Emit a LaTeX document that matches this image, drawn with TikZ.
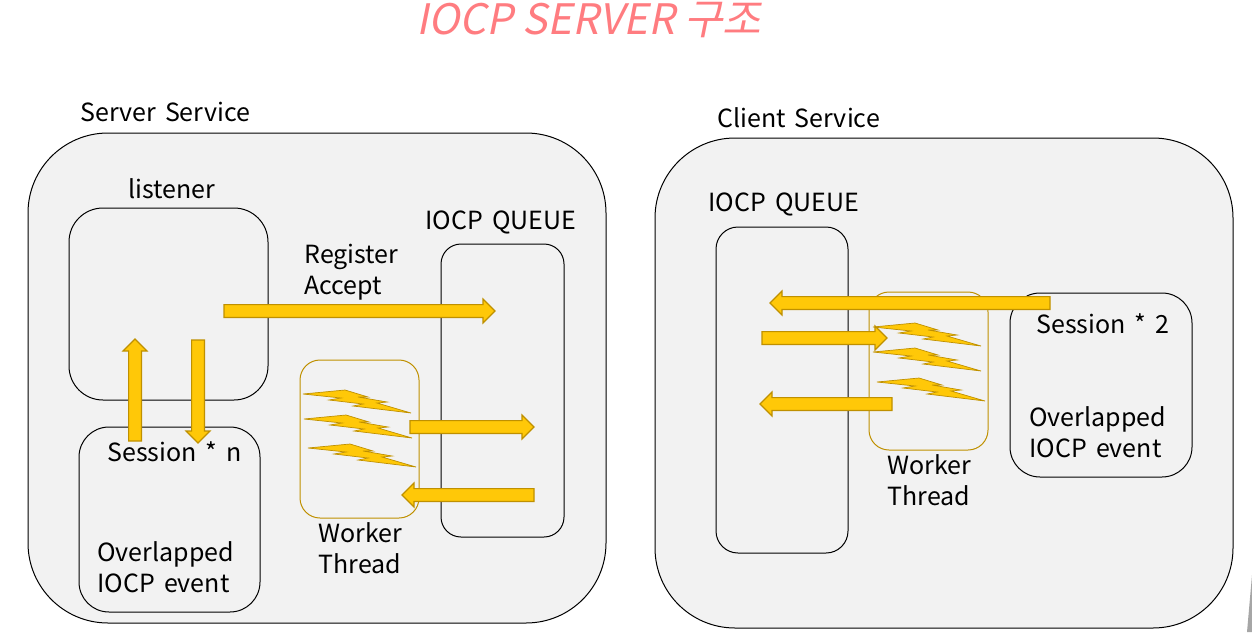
\documentclass[tikz,border=0pt]{standalone}
\usepackage{fontspec}
\setmainfont[WordSpace=1.6]{Noto Sans CJK KR}
\newfontfamily\titlefont[AutoFakeSlant=0.2]{Noto Sans CJK KR}
\usetikzlibrary{calc}

\definecolor{panelgray}{HTML}{F2F2F2}
\definecolor{boltgold}{HTML}{FFC808}
\definecolor{edgegold}{HTML}{BF9000}
\definecolor{titlepink}{HTML}{FF7C80}

\tikzset{
    panel/.style={draw=black, fill=panelgray, rounded corners=#1, line width=0.5pt},
    workerbox/.style={draw=edgegold, fill=panelgray, rounded corners=10pt, line width=0.5pt},
    caption/.style={inner sep=0pt, anchor=west, align=left, font=\fontsize{12.5}{15.5}\selectfont},
    blockarrow/.style={draw=edgegold, fill=boltgold, line width=0.6pt, to path={
        let \p1=($(\tikztotarget)!6pt!(\tikztostart)$) in
        -- ($(\tikztostart)!3.2pt!90:(\tikztotarget)$)
        -- ($(\p1)!3.2pt!90:(\tikztotarget)$)
        -- ($(\p1)!6pt!90:(\tikztotarget)$)
        -- (\tikztotarget)
        -- ($(\p1)!6pt!-90:(\tikztotarget)$)
        -- ($(\p1)!3.2pt!-90:(\tikztotarget)$)
        -- ($(\tikztostart)!3.2pt!-90:(\tikztotarget)$)
        -- cycle}},
    bolt/.pic={
        \draw[draw=edgegold, fill=boltgold, line width=0.35pt]
            (0,0) -- (42,-4) -- (65,3) -- (55,3) -- (84,8) -- (74,9) -- (108,19)
            -- (50,12) -- (60,10) -- (26,6) -- (38,4) -- cycle;
    }
}

\begin{document}
\begin{tikzpicture}[x=0.5pt, y=-0.5pt]

        \useasboundingbox (0,0) rectangle (1252,632);

        % Sliver in the corner
        \fill[gray!70] (1252,575) -- (1247,632) -- (1252,632) -- cycle;

        \node[text=titlepink, font=\titlefont\itshape\fontsize{21}{25}\selectfont, inner sep=0pt] (title) at (589,20) {IOCP SERVER 구조};

        % Server side
        \draw[panel=40pt] (28,133) rectangle (606,623);
        \draw[panel=17pt] (69,208) rectangle (268,400);
        \draw[panel=10pt] (441,244) rectangle (564,537);
        \draw[workerbox] (300,360) rectangle (419,518);
        \draw[panel=15pt] (79,427) rectangle (260,612);

        % Client side
        \draw[panel=40pt] (655,138) rectangle (1233,628);
        \draw[panel=11pt] (716,227) rectangle (848,553);
        \draw[workerbox] (869,292) rectangle (988,450);
        \draw[panel=15pt] (1010,293) rectangle (1192,477);

        % Lightning
        \foreach \x/\y in {303/394, 304/419, 308/448, 873/327, 873/352, 877/382} {
            \pic at (\x,\y) {bolt};
        }

        % Arrow ends
        \coordinate (registerA) at (224,311);
        \coordinate (registerB) at (495,311);
        \coordinate (upA) at (135,441);
        \coordinate (upB) at (135,339);
        \coordinate (downA) at (198,340);
        \coordinate (downB) at (198,443);
        \coordinate (sendA) at (410,427);
        \coordinate (sendB) at (534,427);
        \coordinate (recvA) at (534,495);
        \coordinate (recvB) at (402,495);
        \coordinate (sessionA) at (1050,303);
        \coordinate (sessionB) at (770,303);
        \coordinate (popA) at (762,338);
        \coordinate (popB) at (887,338);
        \coordinate (pushA) at (892,404);
        \coordinate (pushB) at (760,404);

        \foreach \a/\b in {registerA/registerB, upA/upB, downA/downB, sendA/sendB, recvA/recvB,
                           sessionA/sessionB, popA/popB, pushA/pushB} {
            \draw[blockarrow] (\a) to (\b);
        }

        % Labels
        \node[caption] (serverlabel) at (80,112) {Server Service};
        \node[caption] (listenerlabel) at (128,189) {listener};
        \node[caption] (queuelabel) at (425,222) {IOCP QUEUE};
        \node[caption] (registerlabel) at (304,272) {Register\\Accept};
        \node[caption] (sessionlabel) at (107,452) {Session * n};
        \node[caption] (overlappedlabel) at (97,567) {Overlapped\\IOCP event};
        \node[caption] (workerlabel) at (318,548) {Worker\\Thread};

        \node[caption] (clientlabel) at (717,118) {Client Service};
        \node[caption] (queuelabelb) at (708,204) {IOCP QUEUE};
        \node[caption] (sessionlabelb) at (1036,324) {Session * 2};
        \node[caption] (overlappedlabelb) at (1029,432) {Overlapped\\IOCP event};
        \node[caption] (workerlabelb) at (887,480) {Worker\\Thread};

    \end{tikzpicture}
\end{document}
